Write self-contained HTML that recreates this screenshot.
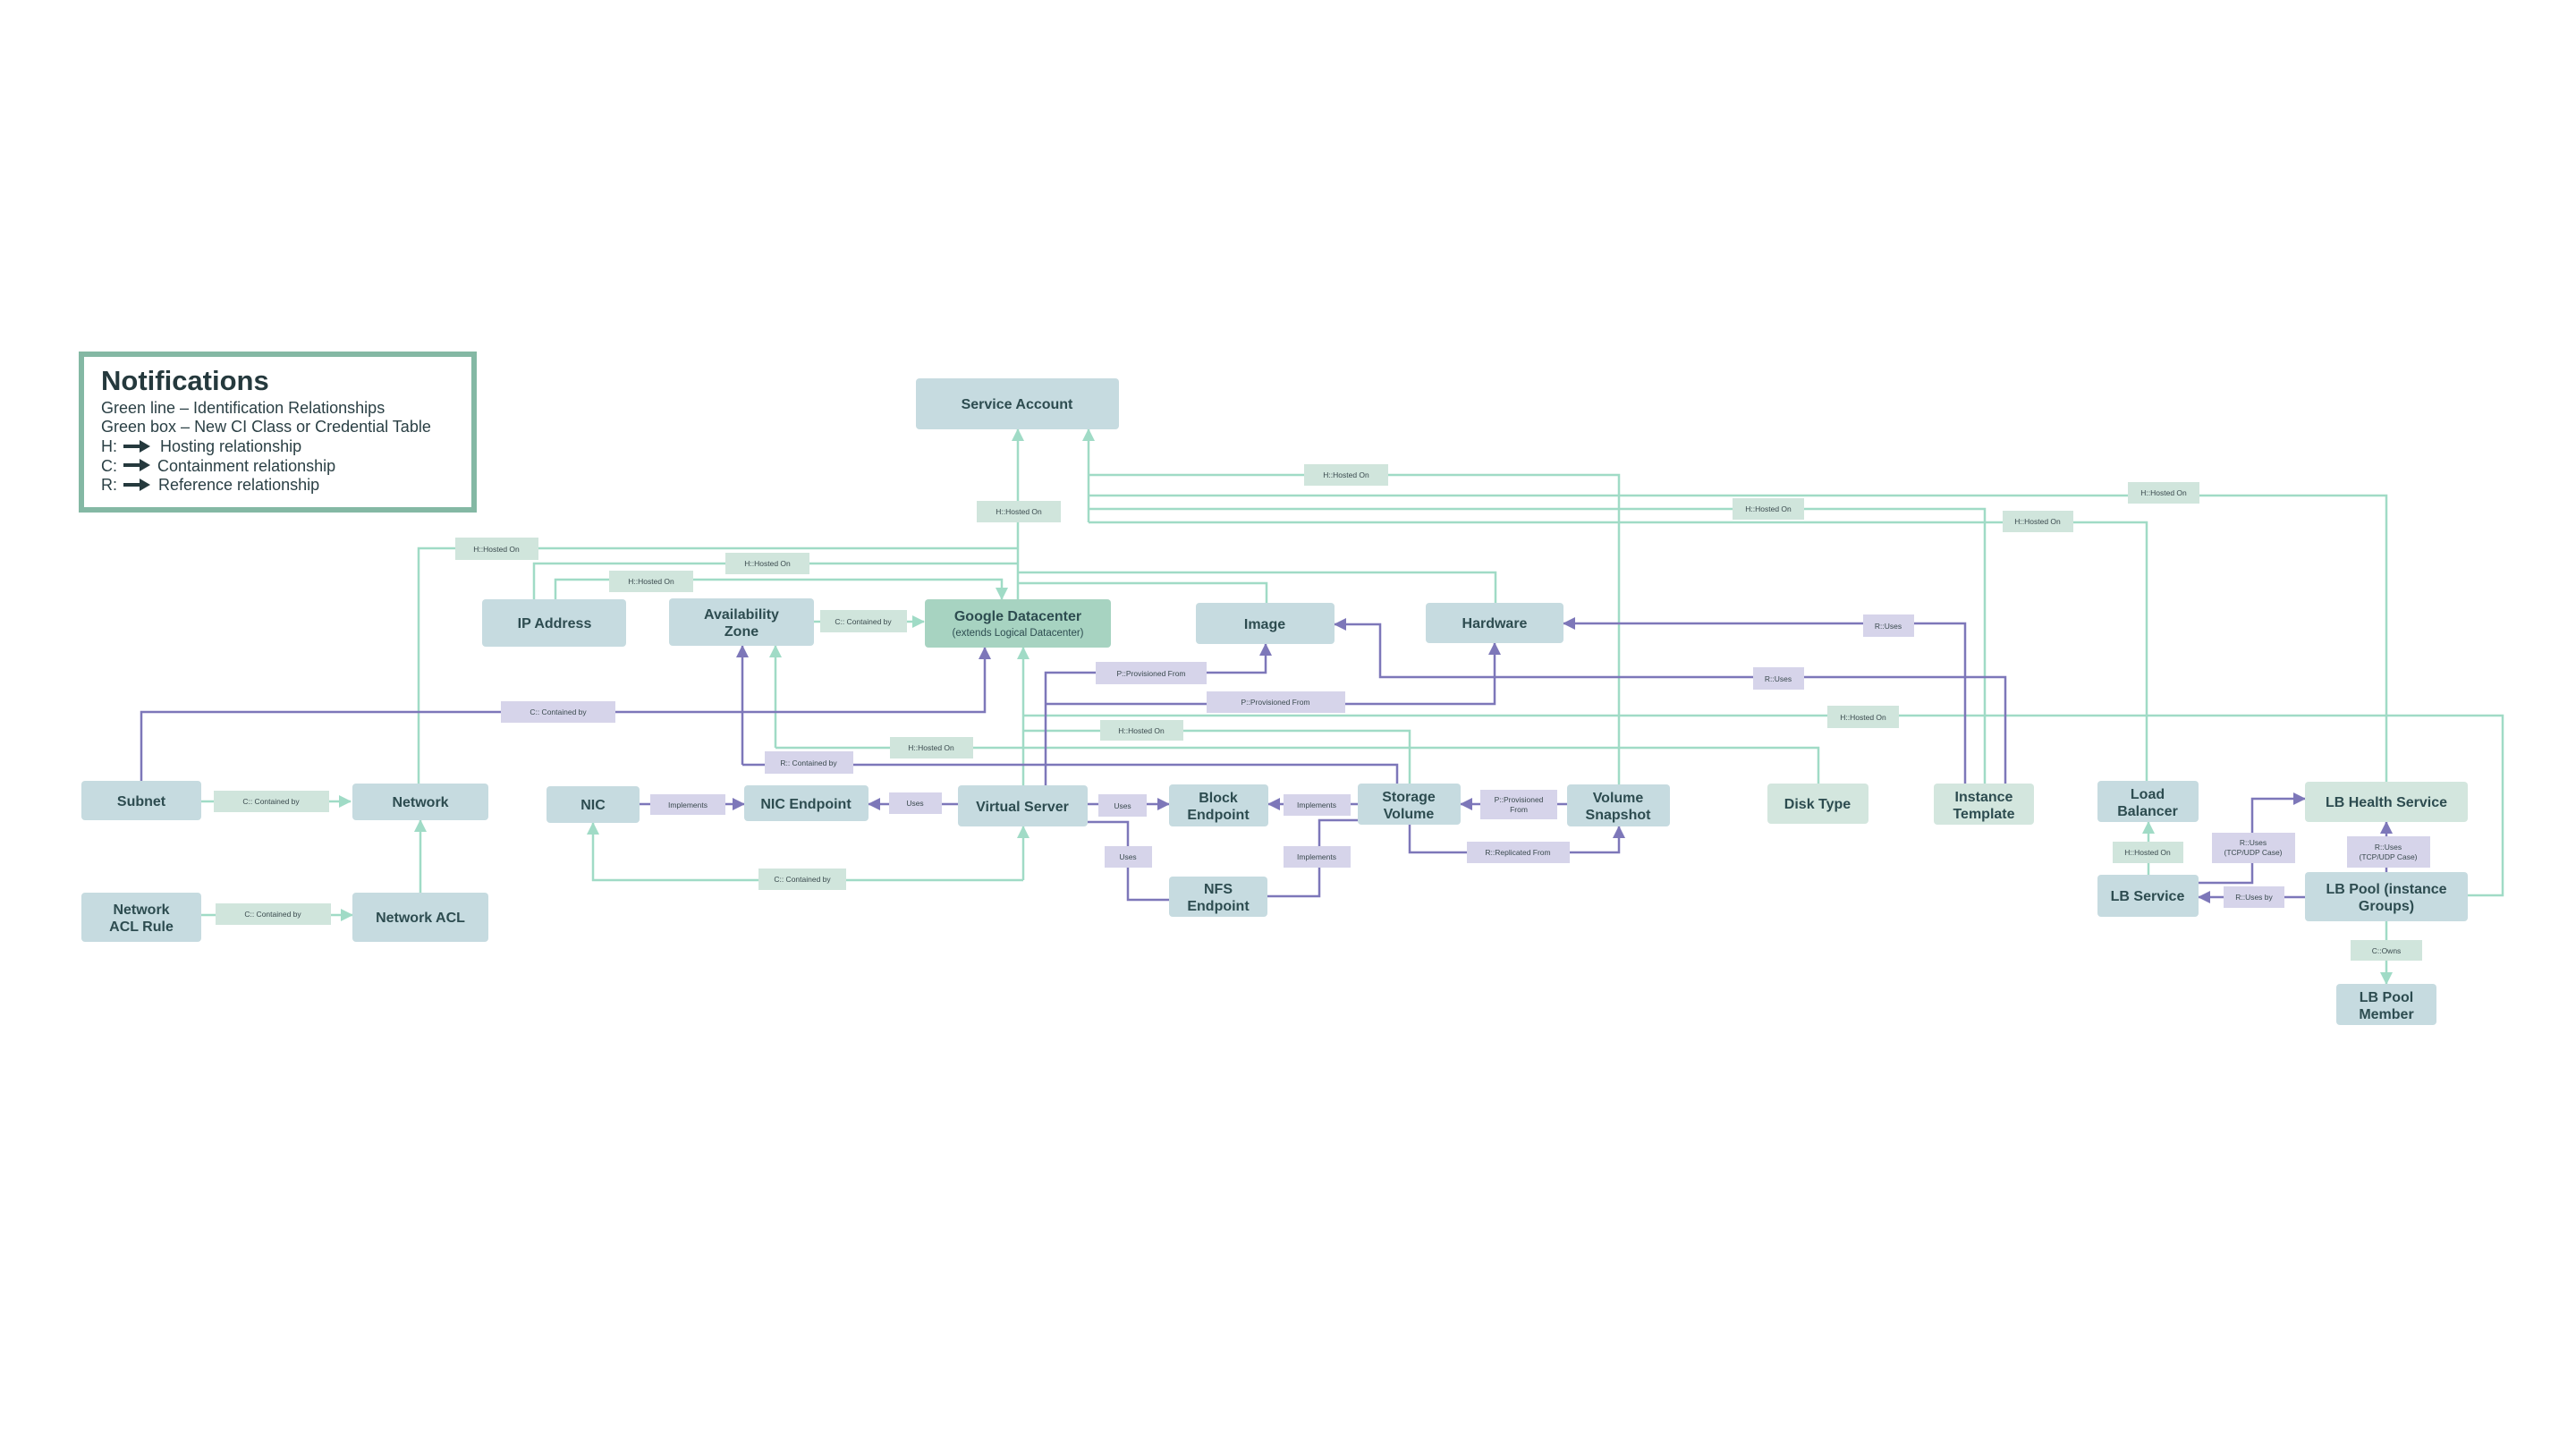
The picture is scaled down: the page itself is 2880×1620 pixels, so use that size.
<!DOCTYPE html>
<html><head><meta charset="utf-8"><style>
html,body{margin:0;padding:0;background:#fff;}
svg{display:block;}
.n{fill:#c6dbe0;}
.ng{fill:#d3e6de;}
.nt{font-family:"Liberation Sans",sans-serif;font-weight:bold;font-size:16px;fill:#2d4c50;text-anchor:middle;}
.lg{fill:#d0e5dc;}
.lp{fill:#d6d4ea;}
.lt{font-family:"Liberation Sans",sans-serif;font-size:8.5px;fill:#3a4a4e;text-anchor:middle;}
.g{stroke:#a0dbc6;stroke-width:2.5;fill:none;}
.p{stroke:#7d77b9;stroke-width:2.5;fill:none;}
.leg{font-family:"Liberation Sans",sans-serif;font-size:18px;fill:#2a3f44;}
</style></head><body>
<svg width="2880" height="1620" viewBox="0 0 2880 1620" xmlns="http://www.w3.org/2000/svg">
<defs>
<marker id="ag" markerUnits="userSpaceOnUse" markerWidth="14" markerHeight="14" refX="13" refY="7" orient="auto"><path d="M0,0 L14,7 L0,14 z" fill="#a0dbc6"/></marker>
<marker id="ap" markerUnits="userSpaceOnUse" markerWidth="14" markerHeight="14" refX="13" refY="7" orient="auto"><path d="M0,0 L14,7 L0,14 z" fill="#7d77b9"/></marker>
</defs>

<!-- legend -->
<rect x="91" y="396" width="439" height="174" fill="#fff" stroke="#84b8a4" stroke-width="6"/>
<text x="113" y="436" style="font-family:'Liberation Sans',sans-serif;font-weight:bold;font-size:31px;fill:#25393d">Notifications</text>
<text class="leg" x="113" y="462">Green line – Identification Relationships</text>
<text class="leg" x="113" y="483">Green box – New CI Class or Credential Table</text>
<text class="leg" x="113" y="505">H:</text><text class="leg" x="179" y="505">Hosting relationship</text>
<text class="leg" x="113" y="527">C:</text><text class="leg" x="176" y="527">Containment relationship</text>
<text class="leg" x="113" y="548">R:</text><text class="leg" x="177" y="548">Reference relationship</text>
<g fill="#25393d">
<rect x="138" y="497" width="20" height="4"/><path d="M156,492 L168,499 L156,506z"/>
<rect x="138" y="518" width="20" height="4"/><path d="M156,513 L168,520 L156,527z"/>
<rect x="138" y="540" width="20" height="4"/><path d="M156,535 L168,542 L156,549z"/>
</g>

<!-- green lines -->
<path class="g" d="M468 876 V613 H1138"/>
<path class="g" d="M597 670 V630 H1138"/>
<path class="g" d="M621 670 V648 H1120 V670" marker-end="url(#ag)"/>
<path class="g" d="M1138 670 V480" marker-end="url(#ag)"/>
<path class="g" d="M910 695 H1033" marker-end="url(#ag)"/>
<path class="g" d="M1217 584 V480" marker-end="url(#ag)"/>
<path class="g" d="M1810 877 V531 H1217"/>
<path class="g" d="M2668 874 V554 H1217"/>
<path class="g" d="M2219 876 V569 H1217"/>
<path class="g" d="M2400 873 V584 H1217"/>
<path class="g" d="M1139 640 H1672 V674"/>
<path class="g" d="M1139 652 H1416 V674"/>
<path class="g" d="M1144 878 V724" marker-end="url(#ag)"/>
<path class="g" d="M1144 800 H2798 V1001 H2759"/>
<path class="g" d="M1144 817 H1576 V876"/>
<path class="g" d="M867 836 V722" marker-end="url(#ag)"/>
<path class="g" d="M867 836 H2033 V876"/>
<path class="g" d="M225 896 H392" marker-end="url(#ag)"/>
<path class="g" d="M225 1023 H394" marker-end="url(#ag)"/>
<path class="g" d="M470 998 V917" marker-end="url(#ag)"/>
<path class="g" d="M1144 984 V924" marker-end="url(#ag)"/>
<path class="g" d="M1144 984 H663 V920" marker-end="url(#ag)"/>
<path class="g" d="M2402 978 V919" marker-end="url(#ag)"/>
<path class="g" d="M2668 1030 V1100" marker-end="url(#ag)"/>

<!-- purple lines -->
<path class="p" d="M158 873 V796 H1101 V724" marker-end="url(#ap)"/>
<path class="p" d="M830 855 V722" marker-end="url(#ap)"/>
<path class="p" d="M830 855 H1562 V876"/>
<path class="p" d="M715 899 H832" marker-end="url(#ap)"/>
<path class="p" d="M1071 899 H971" marker-end="url(#ap)"/>
<path class="p" d="M1169 878 V752 H1415 V720" marker-end="url(#ap)"/>
<path class="p" d="M1169 787 H1671 V719" marker-end="url(#ap)"/>
<path class="p" d="M1216 899 H1307" marker-end="url(#ap)"/>
<path class="p" d="M1216 919 H1261 V1006 H1307"/>
<path class="p" d="M1518 899 H1418" marker-end="url(#ap)"/>
<path class="p" d="M1518 917 H1475 V1002 H1417"/>
<path class="p" d="M1752 899 H1633" marker-end="url(#ap)"/>
<path class="p" d="M1576 922 V953 H1810 V924" marker-end="url(#ap)"/>
<path class="p" d="M2197 876 V697 H1748" marker-end="url(#ap)"/>
<path class="p" d="M2242 876 V757 H1543 V698 H1492" marker-end="url(#ap)"/>
<path class="p" d="M2458 987 H2518 V893 H2577" marker-end="url(#ap)"/>
<path class="p" d="M2668 975 V919" marker-end="url(#ap)"/>
<path class="p" d="M2577 1003 H2458" marker-end="url(#ap)"/>

<!-- connector labels green -->
<g>
<rect class="lg" x="509" y="601" width="93" height="25"/><text class="lt" x="555" y="617">H::Hosted On</text>
<rect class="lg" x="811" y="618" width="94" height="24"/><text class="lt" x="858" y="633">H::Hosted On</text>
<rect class="lg" x="681" y="638" width="94" height="24"/><text class="lt" x="728" y="653">H::Hosted On</text>
<rect class="lg" x="917" y="682" width="97" height="25"/><text class="lt" x="965" y="698">C:: Contained by</text>
<rect class="lg" x="1092" y="560" width="94" height="24"/><text class="lt" x="1139" y="575">H::Hosted On</text>
<rect class="lg" x="1458" y="519" width="94" height="24"/><text class="lt" x="1505" y="534">H::Hosted On</text>
<rect class="lg" x="1937" y="557" width="80" height="24"/><text class="lt" x="1977" y="572">H::Hosted On</text>
<rect class="lg" x="2239" y="571" width="79" height="24"/><text class="lt" x="2278" y="586">H::Hosted On</text>
<rect class="lg" x="2379" y="539" width="80" height="24"/><text class="lt" x="2419" y="554">H::Hosted On</text>
<rect class="lg" x="1230" y="805" width="93" height="23"/><text class="lt" x="1276" y="820">H::Hosted On</text>
<rect class="lg" x="995" y="824" width="93" height="24"/><text class="lt" x="1041" y="839">H::Hosted On</text>
<rect class="lg" x="2043" y="789" width="80" height="25"/><text class="lt" x="2083" y="805">H::Hosted On</text>
<rect class="lg" x="239" y="884" width="129" height="24"/><text class="lt" x="303" y="899">C:: Contained by</text>
<rect class="lg" x="241" y="1010" width="129" height="24"/><text class="lt" x="305" y="1025">C:: Contained by</text>
<rect class="lg" x="848" y="971" width="98" height="24"/><text class="lt" x="897" y="986">C:: Contained by</text>
<rect class="lg" x="2362" y="941" width="79" height="24"/><text class="lt" x="2401" y="956">H::Hosted On</text>
<rect class="lg" x="2628" y="1051" width="80" height="23"/><text class="lt" x="2668" y="1066">C::Owns</text>
</g>
<!-- connector labels purple -->
<g>
<rect class="lp" x="560" y="784" width="128" height="24"/><text class="lt" x="624" y="799">C:: Contained by</text>
<rect class="lp" x="855" y="840" width="99" height="25"/><text class="lt" x="904" y="856">R:: Contained by</text>
<rect class="lp" x="727" y="888" width="84" height="23"/><text class="lt" x="769" y="903">Implements</text>
<rect class="lp" x="994" y="886" width="59" height="24"/><text class="lt" x="1023" y="901">Uses</text>
<rect class="lp" x="1225" y="740" width="124" height="25"/><text class="lt" x="1287" y="756">P::Provisioned From</text>
<rect class="lp" x="1349" y="773" width="155" height="24"/><text class="lt" x="1426" y="788">P::Provisioned From</text>
<rect class="lp" x="1228" y="888" width="54" height="25"/><text class="lt" x="1255" y="904">Uses</text>
<rect class="lp" x="1235" y="946" width="53" height="24"/><text class="lt" x="1261" y="961">Uses</text>
<rect class="lp" x="1435" y="888" width="75" height="24"/><text class="lt" x="1472" y="903">Implements</text>
<rect class="lp" x="1435" y="946" width="75" height="24"/><text class="lt" x="1472" y="961">Implements</text>
<rect class="lp" x="1655" y="883" width="86" height="33"/><text class="lt" x="1698" y="897">P::Provisioned</text><text class="lt" x="1698" y="908">From</text>
<rect class="lp" x="1640" y="941" width="115" height="24"/><text class="lt" x="1697" y="956">R::Replicated From</text>
<rect class="lp" x="2083" y="687" width="57" height="25"/><text class="lt" x="2111" y="703">R::Uses</text>
<rect class="lp" x="1960" y="746" width="57" height="25"/><text class="lt" x="1988" y="762">R::Uses</text>
<rect class="lp" x="2473" y="931" width="93" height="34"/><text class="lt" x="2519" y="945">R::Uses</text><text class="lt" x="2519" y="956">(TCP/UDP Case)</text>
<rect class="lp" x="2624" y="935" width="93" height="35"/><text class="lt" x="2670" y="950">R::Uses</text><text class="lt" x="2670" y="961">(TCP/UDP Case)</text>
<rect class="lp" x="2486" y="991" width="68" height="24"/><text class="lt" x="2520" y="1006">R::Uses by</text>
</g>

<!-- nodes -->
<rect class="n" x="1024" y="423" width="227" height="57" rx="4"/><text class="nt" x="1137" y="457">Service Account</text>
<rect class="n" x="539" y="670" width="161" height="53" rx="4"/><text class="nt" x="620" y="702">IP Address</text>
<rect class="n" x="748" y="669" width="162" height="53" rx="4"/><text class="nt" x="829" y="692">Availability</text><text class="nt" x="829" y="711">Zone</text>
<rect x="1034" y="670" width="208" height="54" rx="4" fill="#a7d3c1"/><text class="nt" x="1138" y="694">Google Datacenter</text><text x="1138" y="711" style="font-family:'Liberation Sans',sans-serif;font-size:11.5px;fill:#2d4c50;text-anchor:middle">(extends Logical Datacenter)</text>
<rect class="n" x="1337" y="674" width="155" height="46" rx="4"/><text class="nt" x="1414" y="703">Image</text>
<rect class="n" x="1594" y="674" width="154" height="45" rx="4"/><text class="nt" x="1671" y="702">Hardware</text>
<rect class="n" x="91" y="873" width="134" height="44" rx="4"/><text class="nt" x="158" y="901">Subnet</text>
<rect class="n" x="394" y="876" width="152" height="41" rx="4"/><text class="nt" x="470" y="902">Network</text>
<rect class="n" x="91" y="998" width="134" height="55" rx="4"/><text class="nt" x="158" y="1022">Network</text><text class="nt" x="158" y="1041">ACL Rule</text>
<rect class="n" x="394" y="998" width="152" height="55" rx="4"/><text class="nt" x="470" y="1031">Network ACL</text>
<rect class="n" x="611" y="879" width="104" height="41" rx="4"/><text class="nt" x="663" y="905">NIC</text>
<rect class="n" x="832" y="878" width="139" height="40" rx="4"/><text class="nt" x="901" y="904">NIC Endpoint</text>
<rect class="n" x="1071" y="878" width="145" height="46" rx="4"/><text class="nt" x="1143" y="907">Virtual Server</text>
<rect class="n" x="1307" y="877" width="111" height="47" rx="4"/><text class="nt" x="1362" y="897">Block</text><text class="nt" x="1362" y="916">Endpoint</text>
<rect class="n" x="1518" y="876" width="115" height="46" rx="4"/><text class="nt" x="1575" y="896">Storage</text><text class="nt" x="1575" y="915">Volume</text>
<rect class="n" x="1752" y="877" width="115" height="47" rx="4"/><text class="nt" x="1809" y="897">Volume</text><text class="nt" x="1809" y="916">Snapshot</text>
<rect class="n" x="1307" y="980" width="110" height="45" rx="4"/><text class="nt" x="1362" y="999">NFS</text><text class="nt" x="1362" y="1018">Endpoint</text>
<rect class="ng" x="1976" y="876" width="113" height="45" rx="4"/><text class="nt" x="2032" y="904">Disk Type</text>
<rect class="ng" x="2162" y="876" width="112" height="46" rx="4"/><text class="nt" x="2218" y="896">Instance</text><text class="nt" x="2218" y="915">Template</text>
<rect class="n" x="2345" y="873" width="113" height="46" rx="4"/><text class="nt" x="2401" y="893">Load</text><text class="nt" x="2401" y="912">Balancer</text>
<rect class="ng" x="2577" y="874" width="182" height="45" rx="4"/><text class="nt" x="2668" y="902">LB Health Service</text>
<rect class="n" x="2345" y="978" width="113" height="47" rx="4"/><text class="nt" x="2401" y="1007">LB Service</text>
<rect class="n" x="2577" y="975" width="182" height="55" rx="4"/><text class="nt" x="2668" y="999">LB Pool (instance</text><text class="nt" x="2668" y="1018">Groups)</text>
<rect class="n" x="2612" y="1100" width="112" height="46" rx="4"/><text class="nt" x="2668" y="1120">LB Pool</text><text class="nt" x="2668" y="1139">Member</text>
</svg>
</body></html>
